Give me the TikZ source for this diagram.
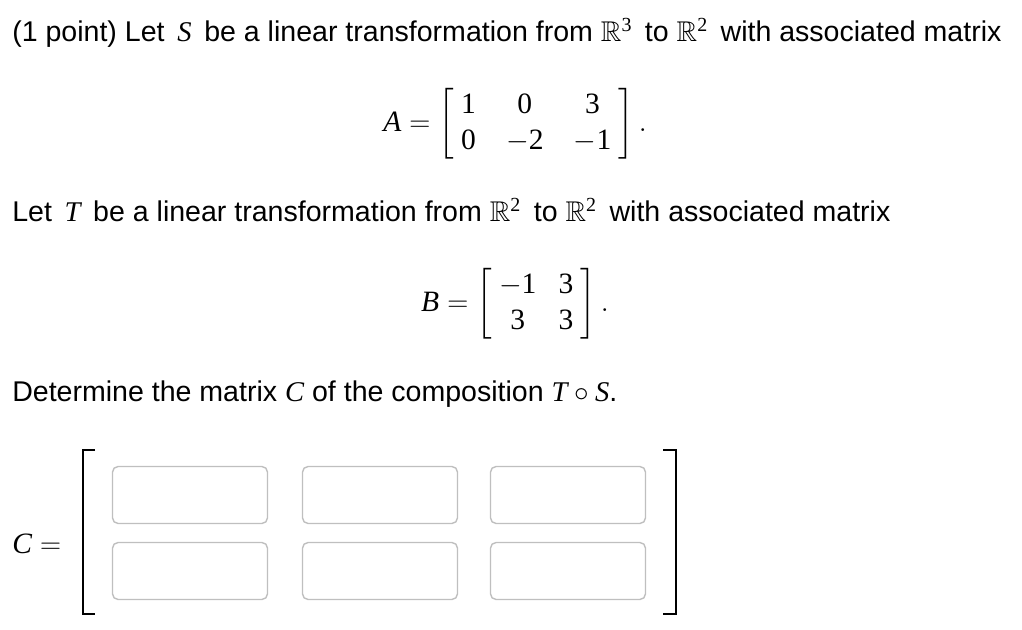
\documentclass[tikz,border=0pt]{standalone}
\usepackage{amssymb}
\usepackage{amsmath}
\usepackage{fontspec}
\setmainfont{Liberation Sans}
\newfontfamily\mf{Liberation Serif}
\newcommand{\mv}[1]{\text{\mf\fontshape{it}\selectfont #1}}
\newcommand{\mn}[1]{\text{\mf #1}}
\begin{document}
\begin{tikzpicture}[x=0.025cm,y=-0.025cm,
  txt/.style={anchor=base west,inner sep=0pt,font=\fontsize{20.3}{24}\selectfont},
  mth/.style={inner sep=0pt,font=\fontsize{21}{26}\selectfont},
  ansbox/.style={draw=black!25,line width=1pt,rounded corners=4pt,minimum width=155*0.025cm,minimum height=57*0.025cm,fill=white}]
\useasboundingbox (0,0) rectangle (1022,630);
\node[txt] (l1) at (12,42) {(1 point) Let \,$\mv{S}$\, be a linear transformation from $\mathbb{R}^{\mn{3}}$\, to $\mathbb{R}^{\mn{2}}$\, with associated matrix};
\node[mth] (A) at (515,124) {$\mv{A}=\left[\begin{array}{ccc}\mn{1}&\;\;\mn{0}&\;\;\mn{3}\\\mn{0}&\;\;-\mn{2}&\;\;-\mn{1}\end{array}\right].$};
\node[txt] (l2) at (12,222) {Let \,$\mv{T}$\, be a linear transformation from $\mathbb{R}^{\mn{2}}$\, to $\mathbb{R}^{\mn{2}}$\, with associated matrix};
\node[mth] (B) at (515,304) {$\mv{B}=\left[\begin{array}{cc}-\mn{1}&\;\mn{3}\\\mn{3}&\;\mn{3}\end{array}\right].$};
\node[txt] (l3) at (12,402) {Determine the matrix $\mv{C}$ of the composition $\mv{T}\circ\mv{S}$.};
\node[mth,anchor=base west] (c) at (12,553) {$\mv{C}=$};
\draw[line width=1.3pt] (95,450) -- (83,450) -- (83,614) -- (95,614);
\draw[line width=1.3pt] (663,450) -- (676,450) -- (676,614) -- (663,614);
\foreach \x/\n in {190/a,380/b,568/c}{
  \node[ansbox] (r1\n) at (\x,495) {};
  \node[ansbox] (r2\n) at (\x,571) {};
}
\end{tikzpicture}
\end{document}
